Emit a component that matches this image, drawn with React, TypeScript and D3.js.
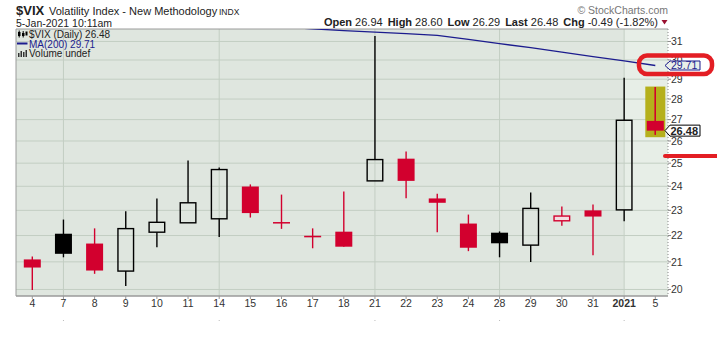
import React from 'react';
import * as d3 from 'd3';

const dates = [
  '2020-12-04', '2020-12-07', '2020-12-08', '2020-12-09', '2020-12-10', '2020-12-11',
  '2020-12-14', '2020-12-15', '2020-12-16', '2020-12-17', '2020-12-18', '2020-12-21',
  '2020-12-22', '2020-12-23', '2020-12-24', '2020-12-28', '2020-12-29', '2020-12-30',
  '2020-12-31', '2021-01-04', '2021-01-05',
];
const tickLabels = ['4', '7', '8', '9', '10', '11', '14', '15', '16', '17', '18', '21', '22', '23', '24', '28', '29', '30', '31', '2021', '5'];
const opens = [21.09, 22.07, 21.69, 20.66, 22.13, 22.5, 22.66, 23.99, 22.53, 21.99, 22.15, 24.23, 25.2, 23.49, 22.47, 22.11, 21.63, 22.58, 23.0, 23.02, 26.94];
const highs = [21.2, 22.63, 22.28, 22.96, 23.49, 25.12, 24.81, 24.08, 23.65, 22.28, 23.78, 31.3, 25.52, 23.69, 22.83, 22.16, 23.74, 23.16, 23.24, 29.08, 28.6];
const lows = [19.98, 21.17, 20.56, 20.12, 21.55, 22.5, 21.94, 22.71, 22.26, 21.51, 21.57, 24.23, 23.5, 22.13, 21.4, 21.17, 20.99, 22.38, 21.25, 22.56, 26.29];
const closes = [20.79, 21.3, 20.68, 22.27, 22.52, 23.31, 24.72, 22.89, 22.5, 21.93, 21.57, 25.16, 24.23, 23.31, 21.53, 21.7, 23.08, 22.77, 22.75, 26.97, 26.48];
const ma200 = [32.6, 32.5, 32.4, 32.3, 32.2, 32.1, 32.0, 31.9, 31.8, 31.7, 31.6, 31.52, 31.43, 31.33, 31.12, 30.88, 30.66, 30.42, 30.18, 29.95, 29.71];
const prevClose0 = 21.28;
const yTicks = [20, 21, 22, 23, 24, 25, 26, 27, 28, 29, 30, 31];
const weekDates = ['2020-12-07', '2020-12-14', '2020-12-21', '2020-12-28', '2021-01-04'];
const lastClose = 26.48;
const lastMA = 29.71;

const FONT = '"Liberation Sans", Arial, sans-serif';
const RED = '#d2002e';
const NAVY = '#1c1c8e';

export default function App() {
  const W = 717, H = 341;
  const left = 16, right = 668, top = 29, bottom = 296;
  const x = d3.scalePoint<string>().domain(dates).range([32.3, 655.3]);
  const y = d3.scaleLog().domain([19.77, 31.69]).range([bottom, top]);
  const bodyW = 17;
  const lastX = x(dates[dates.length - 1]) as number;
  const jan4X = x('2021-01-04') as number;

  const maLine = d3.line<number>()
    .x((_, i) => x(dates[i]) as number)
    .y((d) => y(d));

  const candles = dates.map((d, i) => {
    const o = opens[i], h = highs[i], l = lows[i], c = closes[i];
    const prev = i === 0 ? prevClose0 : closes[i - 1];
    const color = c < prev ? RED : '#000';
    const hollow = c > o;
    const cx = x(d) as number;
    const yTop = y(Math.max(o, c));
    const yBot = y(Math.min(o, c));
    const bh = Math.max(yBot - yTop, 1.5);
    return { cx, color, hollow, yH: y(h), yL: y(l), yTop, yBot, bh, i, pink: hollow && color === RED };
  });

  const headerStats: [string, string][] = [
    ['Open', '26.94'], ['High', '28.60'], ['Low', '26.29'], ['Last', '26.48'], ['Chg', '-0.49 (-1.82%)'],
  ];

  return (
    <svg width={W} height={H} style={{ position: 'absolute', left: 0, top: 0, background: '#fff' }} fontFamily={FONT}>
      <defs>
        <clipPath id="plotClip">
          <rect x={left} y={top} width={right - left} height={bottom - top} />
        </clipPath>
      </defs>
      <rect x={0} y={0} width={W} height={H} fill="#fff" />

      {/* header */}
      <text x={16} y={14.5} fontSize={13} fontWeight="bold" fill="#222">$VIX</text>
      <text x={49} y={14.5} fontSize={11} fill="#222">Volatility Index - New Methodology</text>
      <text x={219} y={14.5} fontSize={8.5} fill="#222">INDX</text>
      <text x={16} y={26.5} fontSize={10.5} fill="#222">5-Jan-2021 10:11am</text>
      <text x={668} y={14} fontSize={10.5} fill="#777" textAnchor="end">© StockCharts.com</text>
      <text x={658} y={26} fontSize={11} fill="#222" textAnchor="end">
        {headerStats.map(([k, v], i) => (
          <React.Fragment key={k}>
            <tspan fontWeight="bold" dx={i === 0 ? 0 : 5}>{k}</tspan>
            <tspan dx={3}>{v}</tspan>
          </React.Fragment>
        ))}
      </text>
      <path d="M661.5,20 L667.5,20 L664.5,24.5 Z" fill="#9a1030" />

      {/* plot background */}
      <rect x={left} y={top} width={jan4X - left} height={bottom - top} fill="#dfe6df" />
      <rect x={jan4X} y={top} width={right - jan4X} height={bottom - top} fill="#e7eee7" />

      {/* grid */}
      {yTicks.map((t) => (
        <line key={'g' + t} x1={left} x2={right} y1={y(t)} y2={y(t)} stroke="#c3cec3" strokeWidth={1} />
      ))}
      {weekDates.map((d) => (
        <line key={'v' + d} x1={x(d)} x2={x(d)} y1={top} y2={bottom} stroke="#c3cec3" strokeWidth={1} />
      ))}

      {/* frame */}
      <line x1={left} x2={right} y1={top} y2={top} stroke="#9a9a9a" />
      <line x1={left} x2={left} y1={top} y2={bottom} stroke="#9a9a9a" />
      <line x1={left} x2={right} y1={bottom} y2={bottom} stroke="#9a9a9a" strokeWidth={1.5} />
      <line x1={right} x2={right} y1={top} y2={bottom} stroke="#888" strokeDasharray="1,2" />

      {/* legend */}
      <g fontSize={10}>
        <g fill="#000">
          <rect x={18} y={32} width={2.5} height={4} />
          <line x1={19.2} x2={19.2} y1={30.5} y2={37.5} stroke="#000" />
          <rect x={22} y={33} width={2.5} height={3} />
          <line x1={23.2} x2={23.2} y1={31} y2={37.5} stroke="#000" />
          <rect x={25.5} y={31.5} width={2} height={4} />
        </g>
        <text x={29} y={38} fill="#222">$VIX (Daily) 26.48</text>
        <line x1={17} x2={27.5} y1={43.5} y2={43.5} stroke={NAVY} strokeWidth={2} />
        <text x={29} y={47.5} fill={NAVY}>MA(200) 29.71</text>
        <g fill="#333">
          <rect x={18} y={53} width={1.5} height={4} />
          <rect x={20.5} y={51} width={1.5} height={6} />
          <rect x={23} y={52} width={1.5} height={5} />
          <rect x={25.5} y={50} width={1.5} height={7} />
        </g>
        <text x={29} y={57} fill="#222">Volume undef</text>
      </g>

      {/* MA line */}
      <path d={maLine(ma200) || ''} fill="none" stroke={NAVY} strokeWidth={1.3} clipPath="url(#plotClip)" />

      {/* highlight for last bar */}
      <rect x={lastX - 10} y={y(highs[highs.length - 1]) - 0.5} width={20} height={y(lows[lows.length - 1]) - y(highs[highs.length - 1]) + 3} fill="#b5b01c" />

      {/* candles */}
      {candles.map((k) => (
        <g key={'c' + k.i}>
          {k.hollow ? (
            <>
              <line x1={k.cx} x2={k.cx} y1={k.yH} y2={k.yTop} stroke={k.color} strokeWidth={1.4} />
              <line x1={k.cx} x2={k.cx} y1={k.yBot} y2={k.yL} stroke={k.color} strokeWidth={1.4} />
              <rect x={k.cx - bodyW / 2 + 0.7} y={k.yTop} width={bodyW - 1.4} height={k.bh}
                fill={k.pink ? '#f3dde1' : 'none'} stroke={k.color} strokeWidth={1.4} />
            </>
          ) : (
            <>
              <line x1={k.cx} x2={k.cx} y1={k.yH} y2={k.yL} stroke={k.color} strokeWidth={1.4} />
              <rect x={k.cx - bodyW / 2} y={k.yTop} width={bodyW} height={k.bh} fill={k.color} />
            </>
          )}
        </g>
      ))}
      {/* redraw last wick over body */}
      <line x1={lastX} x2={lastX} y1={y(highs[20])} y2={y(lows[20])} stroke={RED} strokeWidth={1.2} />

      {/* y axis */}
      {yTicks.map((t) => (
        <g key={'yt' + t}>
          <line x1={right} x2={right + 3} y1={y(t)} y2={y(t)} stroke="#888" />
          <text x={671} y={y(t) + 3.8} fontSize={10.5} fill="#333">{t}</text>
        </g>
      ))}

      {/* x axis */}
      {dates.map((d, i) => (
        <g key={'xt' + d}>
          <line x1={x(d)} x2={x(d)} y1={bottom} y2={bottom + 3} stroke="#999" />
          <text x={x(d)} y={307} fontSize={10.5} fill="#333" textAnchor="middle"
            fontWeight={tickLabels[i] === '2021' ? 'bold' : 'normal'}>{tickLabels[i]}</text>
        </g>
      ))}
      {weekDates.map((d) => (
        <rect key={'dot' + d} x={(x(d) as number) - 0.5} y={320} width={1} height={1} fill="#bbb" />
      ))}

      {/* MA value tag */}
      <path d={`M${right - 3},${y(lastMA)} L${right + 2},${y(lastMA) - 4.5} L${700},${y(lastMA) - 4.5} L${700},${y(lastMA) + 4.5} L${right + 2},${y(lastMA) + 4.5} Z`}
        fill="#e9efe9" stroke={NAVY} strokeWidth={1} />
      <text x={671} y={y(lastMA) + 3.8} fontSize={10.5} fill={NAVY}>{lastMA.toFixed(2)}</text>

      {/* close value tag */}
      <path d={`M${right - 3},${y(lastClose)} L${right + 2},${y(lastClose) - 5.5} L${700},${y(lastClose) - 5.5} L${700},${y(lastClose) + 5.5} L${right + 2},${y(lastClose) + 5.5} Z`}
        fill="#fff" stroke="#000" strokeWidth={1} />
      <text x={670.5} y={y(lastClose) + 4} fontSize={11} fontWeight="bold" fill="#222">{lastClose.toFixed(2)}</text>

      {/* hand annotations */}
      <rect x={639} y={55.5} width={73} height={18.5} rx={8} ry={8} fill="none" stroke="#e31e24" strokeWidth={4.5} />
      <line x1={665} x2={717} y1={156} y2={156} stroke="#e31e24" strokeWidth={4} strokeLinecap="round" />
    </svg>
  );
}
